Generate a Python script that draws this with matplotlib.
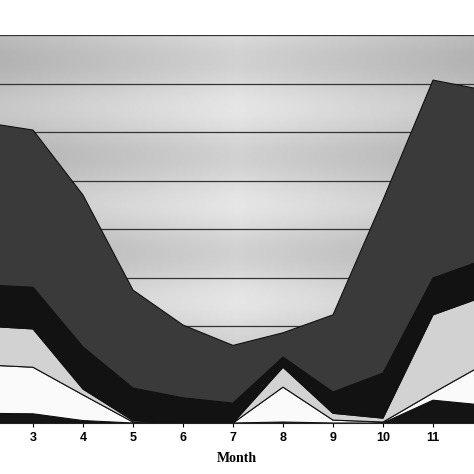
import numpy as np
import matplotlib
matplotlib.use("Agg")
import matplotlib.pyplot as plt

months = [2, 3, 4, 5, 6, 7, 8, 9, 10, 11, 12]
# stacked layer thicknesses (bottom to top)
layer_bottom = [0.20, 0.19, 0.05, 0.0, 0.0, 0.0, 0.02, 0.0, 0.0, 0.47, 0.37]
layer_white = [1.00, 0.96, 0.53, 0.02, 0.0, 0.0, 0.72, 0.06, 0.02, 0.15, 0.83]
layer_gray = [0.80, 0.79, 0.12, 0.03, 0.0, 0.0, 0.41, 0.14, 0.08, 1.61, 1.40]
layer_black = [0.85, 0.86, 0.87, 0.67, 0.52, 0.41, 0.21, 0.44, 0.93, 0.76, 0.76]
layer_dark = [3.35, 3.24, 3.13, 2.02, 1.50, 1.19, 0.50, 1.59, 3.57, 4.08, 3.51]

fig = plt.figure(figsize=(4.74, 4.74), dpi=100)
ax = fig.add_axes([0, 51 / 474, 1, 388 / 474])

# light gray background, slightly lighter in the middle
yy = np.linspace(0, 1, 200)[:, None]
xx = np.linspace(-1, 1, 300)[None, :]
grad = 0.74 + 0.12 * (1 - np.abs(xx)) + 0.04 * np.sin(yy * 8 * np.pi) + 0.0 * xx
ax.imshow(grad, cmap="gray", vmin=0, vmax=1, extent=[2.34, 11.82, 0, 8],
          aspect="auto", origin="lower", zorder=0)
for g in range(1, 9):
    ax.axhline(g, color="#333333", lw=0.9, zorder=1)

ax.stackplot(months, layer_bottom, layer_white, layer_gray, layer_black, layer_dark,
             colors=["#141414", "#fafafa", "#d2d2d2", "#121212", "#3a3a3a"],
             edgecolor="#111111", linewidth=0.8, zorder=2)

ax.set_xlim(2.34, 11.82)
ax.set_ylim(0, 8)
ax.set_xticks(months[1:-1])
ax.tick_params(axis="x", length=3, labelsize=9)
for t in ax.get_xticklabels():
    t.set_fontweight("bold")
    t.set_family("Liberation Sans")
ax.set_yticks([])
for s in ["left", "right", "top"]:
    ax.spines[s].set_visible(False)
ax.spines["bottom"].set_color("#222222")
ax.set_xlabel("Month", fontsize=10, fontweight="bold", family="Liberation Serif", labelpad=6)

fig.savefig("out.png", dpi=100)
